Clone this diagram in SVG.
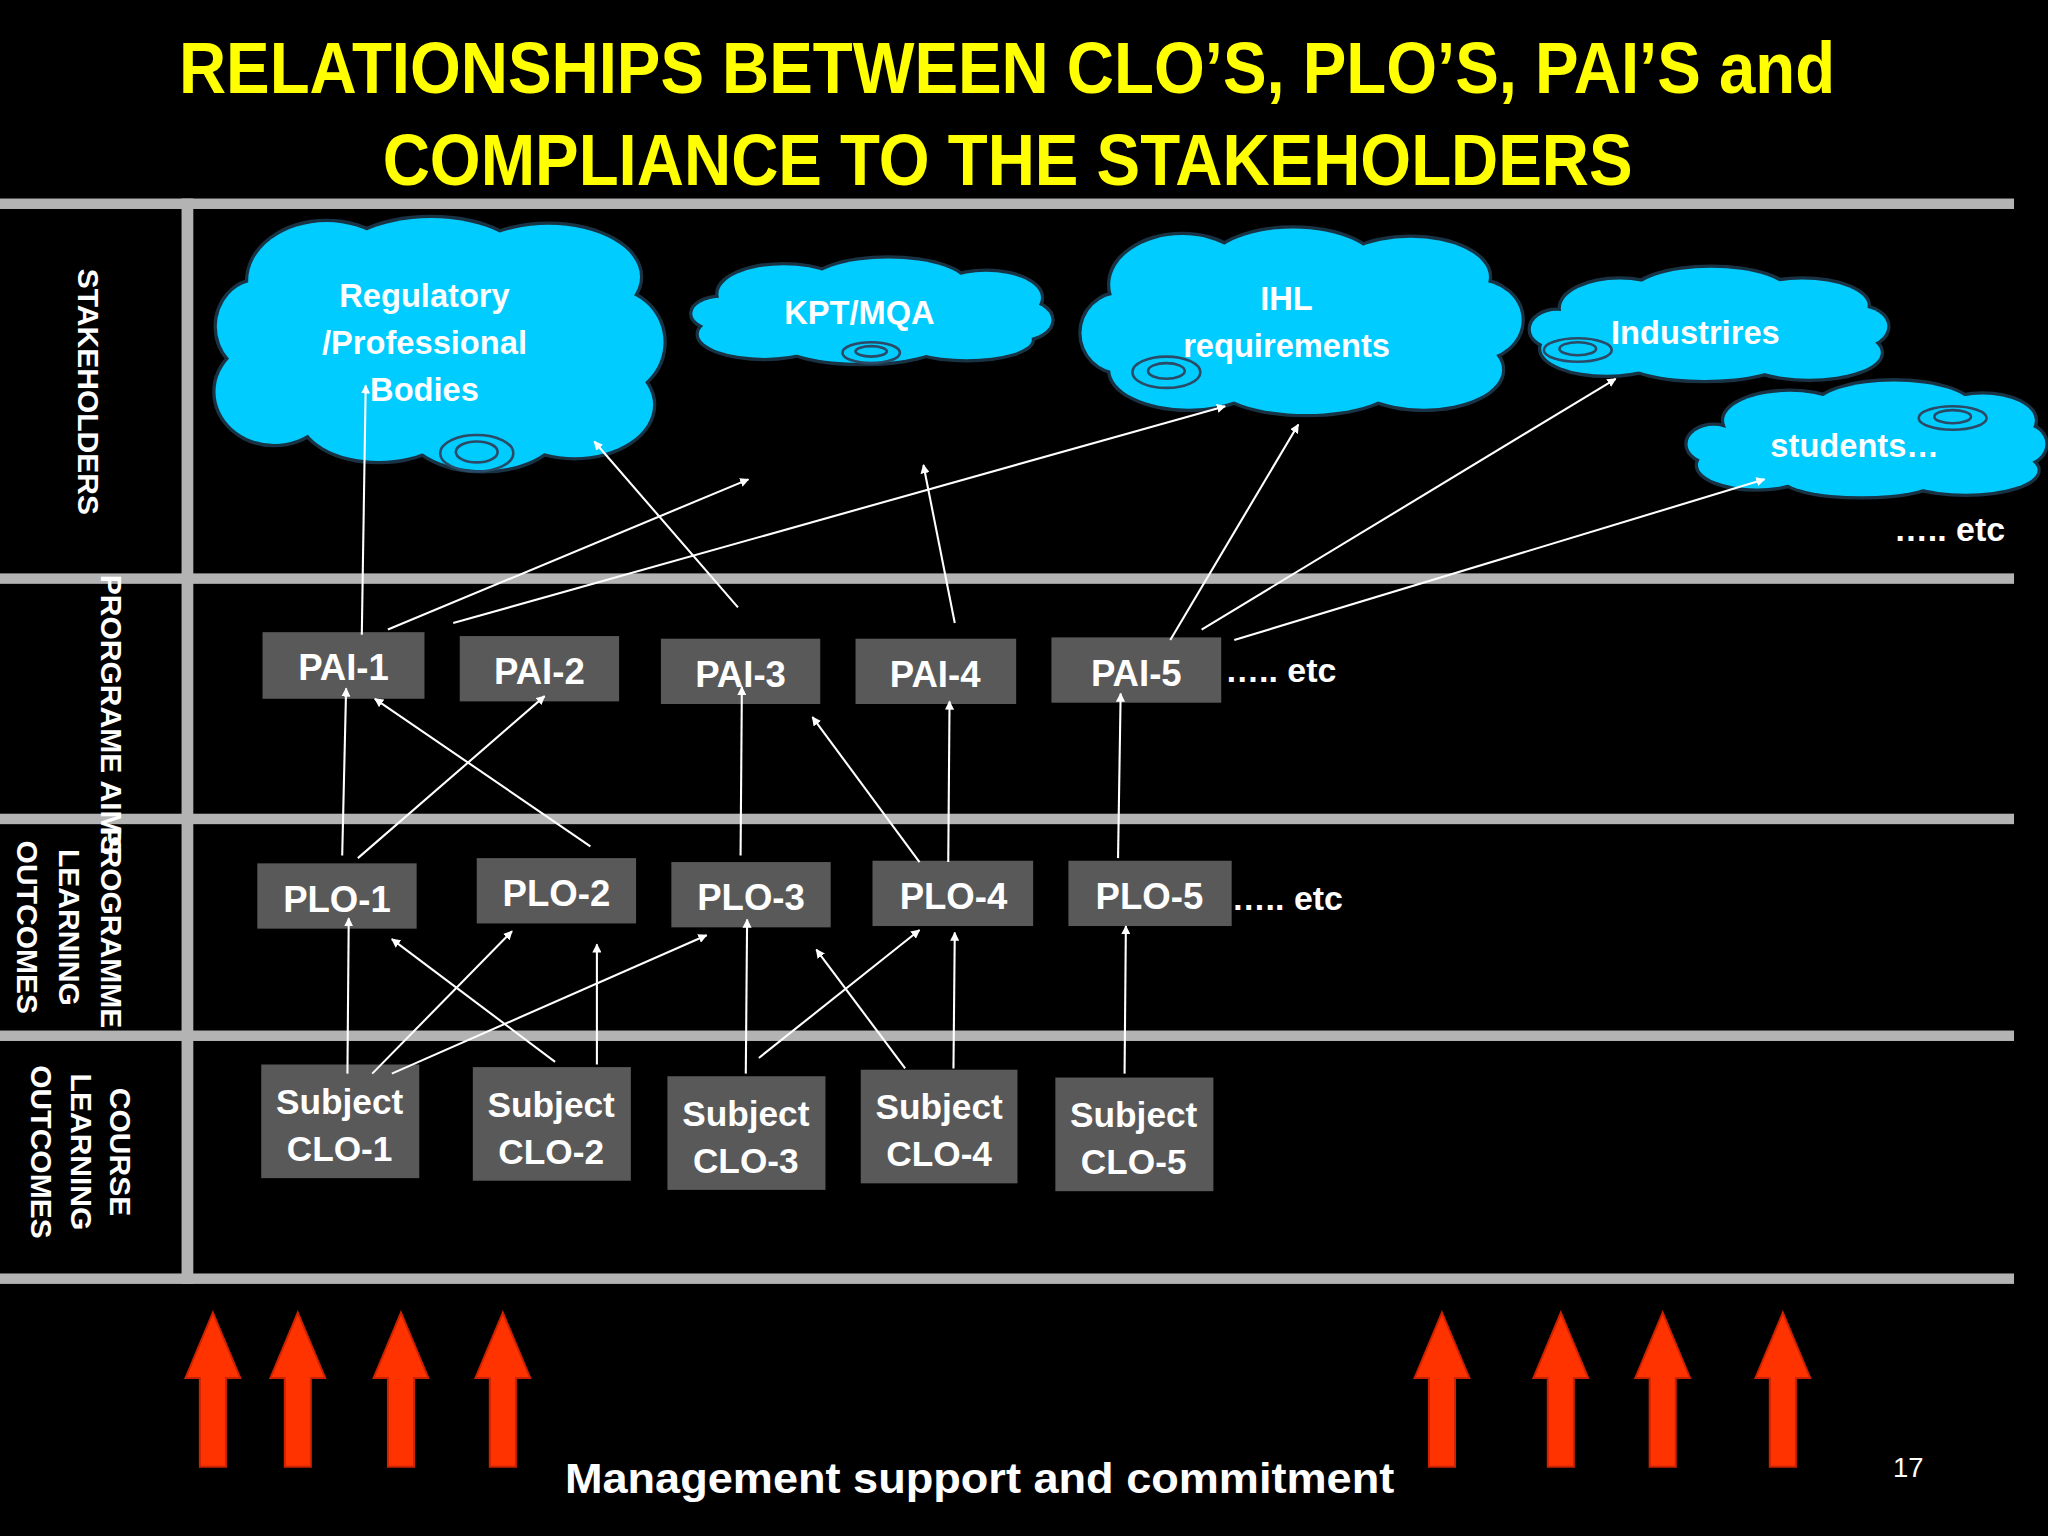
<svg xmlns="http://www.w3.org/2000/svg" width="2048" height="1536" viewBox="0 0 2048 1536">
<style>
.bar{fill:#b3b3b3}
.box rect{fill:#595959}
.box text{fill:#fff;font-family:"Liberation Sans",Arial,sans-serif;font-weight:bold;font-size:28px;text-anchor:middle}
.clo text{font-size:27px}
.lbl{fill:#fff;font-family:"Liberation Sans",Arial,sans-serif;font-weight:bold;font-size:23px;text-anchor:middle}
.cl-o{fill:#0a2a3a;stroke:#1a3344;stroke-width:5}
.cl-f{fill:#00ccff;stroke:none}
.ct{fill:#fff;font-family:"Liberation Sans",Arial,sans-serif;font-weight:bold;font-size:25px;text-anchor:middle}
.sw{fill:none;stroke:#2a4a66;stroke-width:2}
#conn line{stroke:#fff;stroke-width:1.6;marker-end:url(#ah)}
.red{fill:#ff3300;stroke:#cc2200;stroke-width:1.5}
.etc{fill:#fff;font-family:"Liberation Sans",Arial,sans-serif;font-weight:bold;font-size:26px}
</style>
<defs>
<marker id="ah" viewBox="0 0 10 10" refX="9" refY="5" markerWidth="7" markerHeight="7" orient="auto" markerUnits="userSpaceOnUse"><path d="M0,0L10,5L0,10z" fill="#fff"/></marker>
<g id="c1"><ellipse cx="250" cy="215" rx="60" ry="45"/><ellipse cx="330" cy="205" rx="75" ry="38"/><ellipse cx="420" cy="212" rx="70" ry="40"/><ellipse cx="468" cy="262" rx="40" ry="40"/><ellipse cx="440" cy="310" rx="60" ry="40"/><ellipse cx="370" cy="325" rx="60" ry="35"/><ellipse cx="290" cy="318" rx="60" ry="35"/><ellipse cx="210" cy="300" rx="45" ry="40"/><ellipse cx="198" cy="250" rx="32" ry="35"/><ellipse cx="335" cy="265" rx="140" ry="70"/></g>
<g id="c2"><ellipse cx="600" cy="225" rx="50" ry="22"/><ellipse cx="680" cy="218" rx="60" ry="20"/><ellipse cx="755" cy="228" rx="42" ry="20"/><ellipse cx="780" cy="245" rx="25" ry="15"/><ellipse cx="740" cy="260" rx="50" ry="15"/><ellipse cx="660" cy="263" rx="60" ry="15"/><ellipse cx="585" cy="256" rx="50" ry="18"/><ellipse cx="552" cy="240" rx="22" ry="12"/><ellipse cx="667" cy="240" rx="120" ry="28"/></g>
<g id="c3"><ellipse cx="905" cy="218" rx="55" ry="38"/><ellipse cx="990" cy="205" rx="65" ry="30"/><ellipse cx="1080" cy="212" rx="60" ry="30"/><ellipse cx="1130" cy="245" rx="35" ry="30"/><ellipse cx="1090" cy="283" rx="60" ry="30"/><ellipse cx="1000" cy="292" rx="70" ry="25"/><ellipse cx="910" cy="283" rx="60" ry="30"/><ellipse cx="858" cy="255" rx="30" ry="30"/><ellipse cx="995" cy="250" rx="140" ry="50"/></g>
<g id="c4"><ellipse cx="1240" cy="236" rx="45" ry="22"/><ellipse cx="1310" cy="225" rx="60" ry="20"/><ellipse cx="1380" cy="234" rx="50" ry="20"/><ellipse cx="1423" cy="250" rx="22" ry="15"/><ellipse cx="1385" cy="270" rx="55" ry="20"/><ellipse cx="1305" cy="276" rx="60" ry="15"/><ellipse cx="1230" cy="267" rx="50" ry="20"/><ellipse cx="1192" cy="252" rx="20" ry="14"/><ellipse cx="1307" cy="252" rx="120" ry="30"/></g>
<g id="c5"><ellipse cx="1370" cy="322" rx="50" ry="22"/><ellipse cx="1450" cy="312" rx="60" ry="20"/><ellipse cx="1518" cy="322" rx="40" ry="20"/><ellipse cx="1548" cy="340" rx="18" ry="15"/><ellipse cx="1505" cy="360" rx="55" ry="18"/><ellipse cx="1425" cy="366" rx="60" ry="14"/><ellipse cx="1345" cy="356" rx="45" ry="18"/><ellipse cx="1312" cy="340" rx="20" ry="14"/><ellipse cx="1430" cy="340" rx="120" ry="30"/></g>
<path id="ra" d="M-10,0 L-10,-68 L-21,-68 L0,-118 L21,-68 L10,-68 L10,0 Z"/>
</defs>
<rect width="2048" height="1536" fill="#000"/>
<g transform="scale(1.306122)">
<g id="title" fill="#ffff00" font-family="Liberation Sans,Arial,sans-serif" font-weight="bold" font-size="56">
<text x="137" y="71" textLength="1268" lengthAdjust="spacingAndGlyphs">RELATIONSHIPS BETWEEN CLO’S, PLO’S, PAI’S and</text>
<text x="293" y="142" textLength="957" lengthAdjust="spacingAndGlyphs">COMPLIANCE TO THE STAKEHOLDERS</text>
</g>
<g id="grid">
<rect class="bar" x="0" y="152" width="1542" height="8"/>
<rect class="bar" x="0" y="439" width="1542" height="8"/>
<rect class="bar" x="0" y="623" width="1542" height="8"/>
<rect class="bar" x="0" y="789" width="1542" height="8"/>
<rect class="bar" x="0" y="975" width="1542" height="8"/>
<rect class="bar" x="139" y="152" width="9" height="831"/>
</g>
<g id="labels">
<text class="lbl" transform="translate(60,300) rotate(90)">STAKEHOLDERS</text>
<text class="lbl" transform="translate(77,440) rotate(90)" style="text-anchor:start">PRORGRAME  AIMS</text>
<text class="lbl" transform="translate(77,710) rotate(90)"><tspan x="0" dy="0">PROGRAMME</tspan><tspan x="0" dy="32">LEARNING</tspan><tspan x="0" dy="32">OUTCOMES</tspan></text>
<text class="lbl" transform="translate(84,882) rotate(90)"><tspan x="0" dy="0">COURSE</tspan><tspan x="0" dy="30">LEARNING</tspan><tspan x="0" dy="30">OUTCOMES</tspan></text>
</g>
<g id="cloud-regulatory"><use href="#c1" class="cl-o"/><use href="#c1" class="cl-f"/>
<ellipse class="sw" cx="365" cy="347" rx="28" ry="14"/><ellipse class="sw" cx="365" cy="346" rx="16" ry="8"/>
<text class="ct"><tspan x="325" y="235">Regulatory</tspan><tspan x="325" y="271">/Professional</tspan><tspan x="325" y="307">Bodies</tspan></text></g>
<g id="cloud-kpt"><use href="#c2" class="cl-o"/><use href="#c2" class="cl-f"/>
<ellipse class="sw" cx="667" cy="270" rx="22" ry="8"/><ellipse class="sw" cx="667" cy="269" rx="12" ry="4"/>
<text class="ct" x="658" y="248">KPT/MQA</text></g>
<g id="cloud-ihl"><use href="#c3" class="cl-o"/><use href="#c3" class="cl-f"/>
<ellipse class="sw" cx="893" cy="285" rx="26" ry="12"/><ellipse class="sw" cx="893" cy="284" rx="14" ry="6"/>
<text class="ct"><tspan x="985" y="237">IHL</tspan><tspan x="985" y="273">requirements</tspan></text></g>
<g id="cloud-industries"><use href="#c4" class="cl-o"/><use href="#c4" class="cl-f"/>
<ellipse class="sw" cx="1208" cy="268" rx="26" ry="9"/><ellipse class="sw" cx="1208" cy="267" rx="14" ry="5"/>
<text class="ct" x="1298" y="263">Industrires</text></g>
<g id="cloud-students"><use href="#c5" class="cl-o"/><use href="#c5" class="cl-f"/>
<ellipse class="sw" cx="1495" cy="320" rx="26" ry="9"/><ellipse class="sw" cx="1495" cy="319" rx="14" ry="5"/>
<text class="ct" x="1420" y="350">students…</text></g>
<text class="etc" x="1450" y="414">….. etc</text>
<g id="pai1" class="box"><rect x="201" y="484" width="124" height="51"/><text x="263" y="521">PAI-1</text></g>
<g id="pai2" class="box"><rect x="352" y="487" width="122" height="50"/><text x="413" y="524">PAI-2</text></g>
<g id="pai3" class="box"><rect x="506" y="489" width="122" height="50"/><text x="567" y="526">PAI-3</text></g>
<g id="pai4" class="box"><rect x="655" y="489" width="123" height="50"/><text x="716" y="526">PAI-4</text></g>
<g id="pai5" class="box"><rect x="805" y="488" width="130" height="50"/><text x="870" y="525">PAI-5</text></g>
<text class="etc" x="938" y="522">….. etc</text>
<g id="plo1" class="box"><rect x="197" y="661" width="122" height="50"/><text x="258" y="698">PLO-1</text></g>
<g id="plo2" class="box"><rect x="365" y="657" width="122" height="50"/><text x="426" y="694">PLO-2</text></g>
<g id="plo3" class="box"><rect x="514" y="660" width="122" height="50"/><text x="575" y="697">PLO-3</text></g>
<g id="plo4" class="box"><rect x="668" y="659" width="123" height="50"/><text x="730" y="696">PLO-4</text></g>
<g id="plo5" class="box"><rect x="818" y="659" width="125" height="50"/><text x="880" y="696">PLO-5</text></g>
<text class="etc" x="943" y="697">….. etc</text>
<g id="clo1" class="box clo"><rect x="200" y="815" width="121" height="87"/><text><tspan x="260" y="853">Subject</tspan><tspan x="260" y="889">CLO-1</tspan></text></g>
<g id="clo2" class="box clo"><rect x="362" y="817" width="121" height="87"/><text><tspan x="422" y="855">Subject</tspan><tspan x="422" y="891">CLO-2</tspan></text></g>
<g id="clo3" class="box clo"><rect x="511" y="824" width="121" height="87"/><text><tspan x="571" y="862">Subject</tspan><tspan x="571" y="898">CLO-3</tspan></text></g>
<g id="clo4" class="box clo"><rect x="659" y="819" width="120" height="87"/><text><tspan x="719" y="857">Subject</tspan><tspan x="719" y="893">CLO-4</tspan></text></g>
<g id="clo5" class="box clo"><rect x="808" y="825" width="121" height="87"/><text><tspan x="868" y="863">Subject</tspan><tspan x="868" y="899">CLO-5</tspan></text></g>
<g id="conn">
<line x1="266" y1="822" x2="267" y2="703"/>
<line x1="285" y1="822" x2="392" y2="713"/>
<line x1="300" y1="822" x2="541" y2="716"/>
<line x1="425" y1="813" x2="300" y2="719"/>
<line x1="457" y1="815" x2="457" y2="723"/>
<line x1="571" y1="822" x2="572" y2="704"/>
<line x1="581" y1="810" x2="704" y2="712"/>
<line x1="693" y1="818" x2="625" y2="727"/>
<line x1="730" y1="818" x2="731" y2="714"/>
<line x1="861" y1="822" x2="862" y2="709"/>
<line x1="262" y1="655" x2="265" y2="527"/>
<line x1="274" y1="657" x2="417" y2="533"/>
<line x1="452" y1="648" x2="287" y2="535"/>
<line x1="567" y1="655" x2="568" y2="526"/>
<line x1="704" y1="660" x2="622" y2="549"/>
<line x1="726" y1="660" x2="727" y2="537"/>
<line x1="856" y1="657" x2="858" y2="531"/>
<line x1="277" y1="486" x2="280" y2="295"/>
<line x1="297" y1="482" x2="573" y2="367"/>
<line x1="347" y1="477" x2="938" y2="311"/>
<line x1="565" y1="465" x2="455" y2="338"/>
<line x1="731" y1="477" x2="707" y2="356"/>
<line x1="896" y1="490" x2="994" y2="325"/>
<line x1="920" y1="482" x2="1237" y2="290"/>
<line x1="945" y1="490" x2="1351" y2="367"/>
</g>
<g id="support">
<use href="#ra" class="red" transform="translate(163,1123)"/>
<use href="#ra" class="red" transform="translate(228,1123)"/>
<use href="#ra" class="red" transform="translate(307,1123)"/>
<use href="#ra" class="red" transform="translate(385,1123)"/>
<use href="#ra" class="red" transform="translate(1104,1123)"/>
<use href="#ra" class="red" transform="translate(1195,1123)"/>
<use href="#ra" class="red" transform="translate(1273,1123)"/>
<use href="#ra" class="red" transform="translate(1365,1123)"/>
<text x="750" y="1143" fill="#fff" font-family="Liberation Sans,Arial,sans-serif" font-weight="bold" font-size="33" text-anchor="middle" textLength="635" lengthAdjust="spacingAndGlyphs">Management support and commitment</text>
<text x="1461" y="1131" fill="#fff" font-family="Liberation Sans,Arial,sans-serif" font-size="21" text-anchor="middle">17</text>
</g>
</g>
</svg>
